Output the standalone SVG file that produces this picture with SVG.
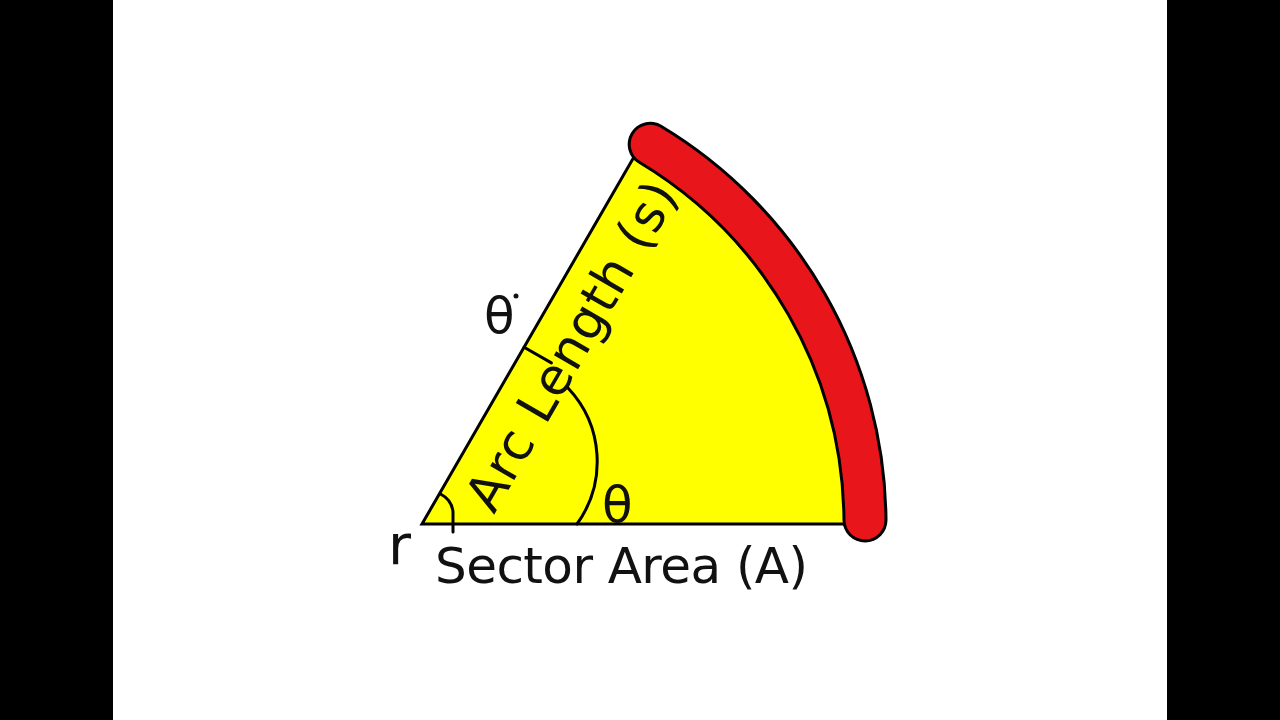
<svg xmlns="http://www.w3.org/2000/svg" width="1280" height="720" viewBox="0 0 1280 720">
<style>
.t{font-family:"DejaVu Sans","Liberation Sans",sans-serif;fill:#111;}
.ln{fill:none;stroke:#000;stroke-width:3;stroke-linecap:round;}
</style>
<rect x="0" y="0" width="1280" height="720" fill="#fff"/>
<rect x="0" y="0" width="113" height="720" fill="#000"/>
<rect x="1167" y="0" width="113" height="720" fill="#000"/>
<g id="sector">
<path d="M422 524 L845 524 A423 423 0 0 0 633.5 157.7 Z" fill="#FFFF00" stroke="#000" stroke-width="3" stroke-linejoin="miter"/>
</g>
<g id="arc-length">
<path d="M865 520 A443 443 0 0 0 650.2 144.3" fill="none" stroke="#000" stroke-width="45" stroke-linecap="round"/>
<path d="M865 520 A443 443 0 0 0 650.2 144.3" fill="none" stroke="#E8161B" stroke-width="39" stroke-linecap="round"/>
</g>
<g id="marks">
<path class="ln" d="M577 524 A107 107 0 0 0 568 388"/>
<path class="ln" d="M440.5 494 Q452 500 453 512 L453 532"/>
<path class="ln" d="M524.1 347.2 L551.4 362.9"/>
<circle cx="516" cy="296" r="2.5" fill="#111"/>
</g>
<g id="labels">
<text class="t" transform="translate(494,515) rotate(-60)" font-size="51" textLength="370" lengthAdjust="spacing">Arc Length (s)</text>
<text class="t" x="435" y="583" font-size="50" textLength="373" lengthAdjust="spacing">Sector Area (A)</text>
<text class="t" x="484" y="333" font-size="50">θ</text>
<text class="t" x="602" y="522" font-size="50">θ</text>
<text class="t" x="388" y="564" font-size="56">r</text>
</g>
</svg>
